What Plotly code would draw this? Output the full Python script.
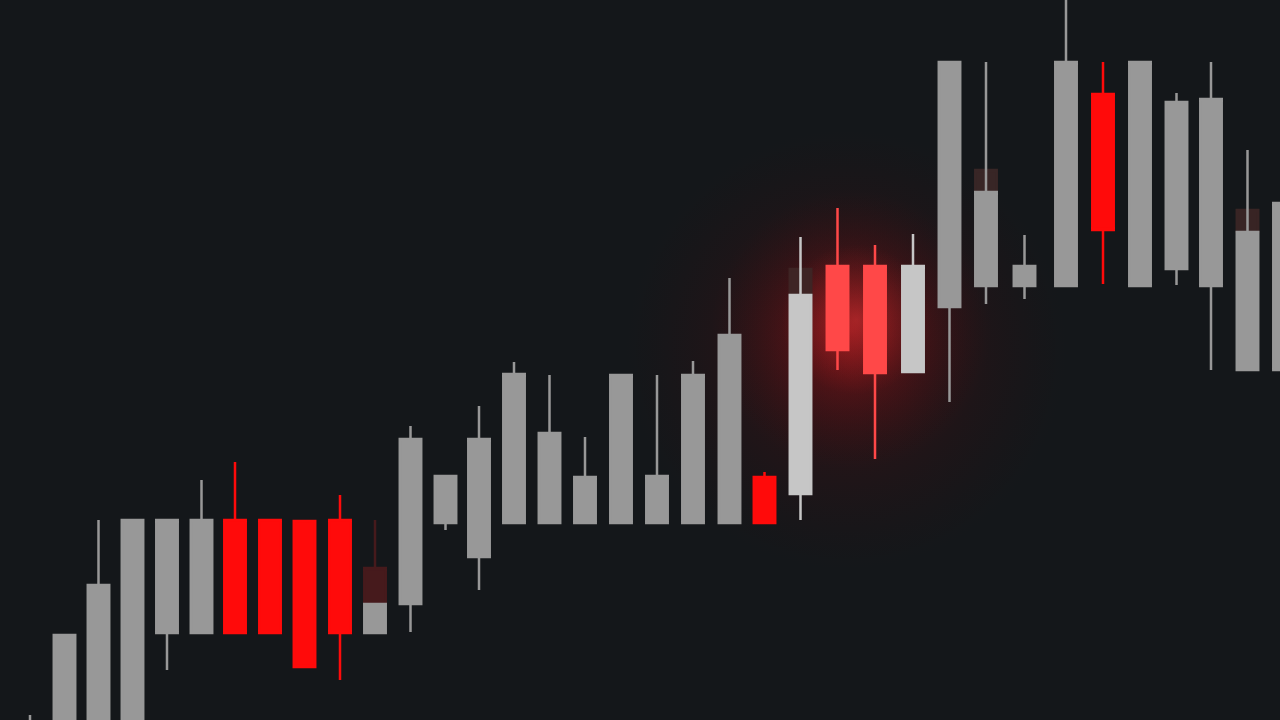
import plotly.graph_objects as go

# ---- data (time positions and prices) ----
t = [30, 64.5, 98.5, 132.5, 167, 201.5, 235, 270, 304.5, 340, 375, 410.5,
     445.5, 479, 514, 549.5, 585, 621, 657, 693, 729.5, 764.5, 800.5, 837.5,
     875, 913, 949.5, 986, 1024.5, 1066, 1103, 1140, 1176.5, 1211, 1247.5, 1284]
open_ = [-40, -40, -40, -40, 87, 87, 200, 200, 199, 200, 87, 116,
         197, 163, 197, 197, 197, 197, 197, 197, 197, 243, 226, 454,
         454, 348, 413, 434, 434, 434, 626, 434, 451, 434, 350, 350]
close = [-5, 85, 135, 200, 200, 200, 87, 87, 53, 87, 116, 281,
         244, 281, 346, 287, 243, 345, 244, 345, 385, 197, 425, 370,
         347, 454, 658, 528, 454, 658, 490, 658, 618, 621, 488, 517]
high = [5, 85, 200, 200, 200, 240, 258, 200, 199, 225, 116, 294,
        244, 314, 358, 345, 283, 345, 345, 359, 442, 248, 483, 512,
        475, 486, 658, 658, 485, 740, 658, 658, 627, 658, 570, 517]
low = [-40, -40, -40, -40, 50, 87, 87, 87, 53, 40, 87, 88,
       190, 130, 197, 197, 197, 197, 197, 197, 197, 197, 200, 350,
       261, 348, 318, 416, 421, 434, 436, 434, 435, 350, 350, 350]

# candle groups (index lists)
glow_idx = [23, 24]          # glowing red candles
light_idx = [22, 25]         # grey candles lit by the glow
# faint ghost candles (motion trails)
ghost_t = [375, 800.5, 986, 1247.5]
ghost_open = [116, 425, 528, 488]
ghost_close = [152, 451, 550, 510]
ghost_high = [200, 451, 550, 510]
ghost_low = [116, 425, 528, 488]
ghost_color = ["#461a1c", "#3e2424", "#382626", "#382424"]

GREY = "#989898"
LIGHT = "#c6c6c6"
RED = "#ff0a0a"
GLOW = "#ff4848"
BG = "#14171a"


def pick(arr, idx):
    return [arr[i] for i in idx]


normal_idx = [i for i in range(len(t)) if i not in glow_idx + light_idx]

fig = go.Figure()

# soft red glow behind the two bright red candles (base axes, drawn below)
cx = (t[23] + t[24]) / 2
cy = (open_[23] + close[24]) / 2
fig.add_trace(go.Scatter(
    x=[cx - 10, cx - 5, cx], y=[cy - 30, cy - 10, cy], mode="markers",
    hoverinfo="skip", showlegend=False,
    marker=dict(size=[440, 280, 150],
                color=["rgba(60,10,12,0)", "rgba(90,10,12,0)", "rgba(200,30,30,0)"],
                line=dict(width=0),
                gradient=dict(type="radial",
                              color=["rgba(120,12,18,0.6)", "rgba(210,25,30,0.6)",
                                     "rgba(255,60,60,0.55)"])),
))


def candle(idx_t, o, h, l, c, inc, dec, lw=2.5):
    return go.Candlestick(
        x=idx_t, open=o, high=h, low=l, close=c,
        increasing=dict(line=dict(color=inc, width=lw), fillcolor=inc),
        decreasing=dict(line=dict(color=dec, width=lw), fillcolor=dec),
        whiskerwidth=0, hoverinfo="skip", showlegend=False,
        xaxis="x2", yaxis="y2",
    )


for i in range(len(ghost_t)):
    fig.add_trace(candle([ghost_t[i]], [ghost_open[i]], [ghost_high[i]], [ghost_low[i]],
                         [ghost_close[i]], ghost_color[i], ghost_color[i]))
fig.add_trace(candle(pick(t, normal_idx), pick(open_, normal_idx), pick(high, normal_idx),
                     pick(low, normal_idx), pick(close, normal_idx), GREY, RED))
fig.add_trace(candle(pick(t, light_idx), pick(open_, light_idx), pick(high, light_idx),
                     pick(low, light_idx), pick(close, light_idx), LIGHT, GLOW))
fig.add_trace(candle(pick(t, glow_idx), pick(open_, glow_idx), pick(high, glow_idx),
                     pick(low, glow_idx), pick(close, glow_idx), LIGHT, GLOW))

ax = dict(visible=False, showgrid=False, zeroline=False, fixedrange=True)
fig.update_layout(
    width=1280, height=720,
    margin=dict(l=0, r=0, t=0, b=0),
    paper_bgcolor=BG, plot_bgcolor=BG,
    boxgap=0.36, boxgroupgap=0,
    xaxis=dict(range=[0, 1280], rangeslider=dict(visible=False), **ax),
    yaxis=dict(range=[0, 720], **ax),
    xaxis2=dict(range=[0, 1280], overlaying="x", rangeslider=dict(visible=False), **ax),
    yaxis2=dict(range=[0, 720], overlaying="y", **ax),
    showlegend=False,
)

fig.write_html("out.html", config={"displayModeBar": False},
               post_script="document.body.style.margin='0';"
                           "document.body.style.background='#14171a';"
                           "document.body.style.overflow='hidden';")
